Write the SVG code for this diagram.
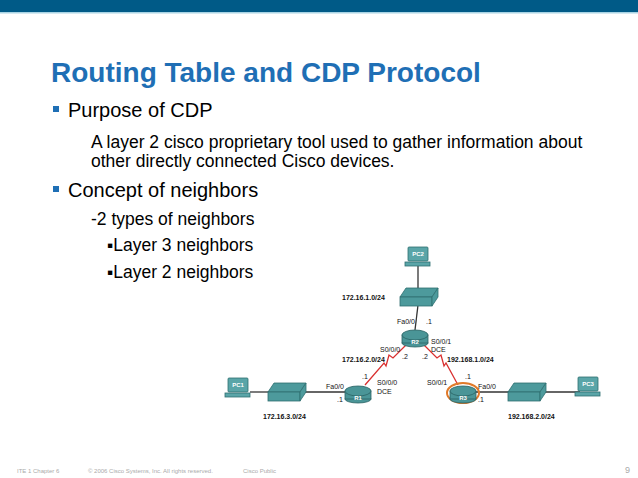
<svg xmlns="http://www.w3.org/2000/svg" width="638" height="478" viewBox="0 0 638 478">
<style>
text{font-family:"Liberation Sans",Arial,sans-serif}
.b{font-size:20px;fill:#000}
.s{font-size:17.5px;fill:#000}
.l{font-size:7px;fill:#111}
.n{font-size:7px;font-weight:bold;fill:#111}
.d{font-size:6px;fill:#fff;font-weight:bold;text-anchor:middle}
.f{font-size:6px;fill:#aaa}
.sw{fill:#4d9a9c;stroke:#2f6e70;stroke-width:0.8}
.rt{fill:#4a9597;stroke:#2b6365;stroke-width:0.8}
.pc{fill:#5aa5a8;stroke:#2f6e70;stroke-width:0.8}
.eth{stroke:#333;stroke-width:1.3;fill:none}
.ser{stroke:#d93030;stroke-width:1.3;fill:none}
</style>
<rect x="0" y="0" width="638" height="12" fill="#005a87"/>
<rect x="0" y="12" width="638" height="1.5" fill="#a9d4e4"/>
<text x="51" y="82" style="font-size:28px;font-weight:bold;fill:#1f6fb5">Routing Table and CDP Protocol</text>
<rect x="53" y="106" width="6" height="6" fill="#1f6fb5"/>
<text x="68" y="117" class="b">Purpose of CDP</text>
<text x="91" y="148" class="s">A layer 2 cisco proprietary tool used to gather information about</text>
<text x="91" y="167" class="s">other directly connected Cisco devices.</text>
<rect x="53" y="186" width="6" height="6" fill="#1f6fb5"/>
<text x="68" y="197" class="b">Concept of neighbors</text>
<text x="91" y="225" class="s">-2 types of neighbors</text>
<text x="107" y="251" class="s">▪Layer 3 neighbors</text>
<text x="107" y="278" class="s">▪Layer 2 neighbors</text>
<g id="connectors">
<line class="eth" x1="418" y1="265" x2="418" y2="290"/>
<line class="eth" x1="418" y1="305" x2="415" y2="330"/>
<line class="eth" x1="250" y1="392" x2="270" y2="392"/>
<line class="eth" x1="303" y1="392" x2="346" y2="392"/>
<line class="eth" x1="475" y1="392" x2="510" y2="392"/>
<line class="eth" x1="543" y1="392" x2="580" y2="392"/>
<polyline class="ser" points="408,343 393,358 389,355 386,366 384,363 365,385"/>
<polyline class="ser" points="422,343 437,358 441,355 444,366 446,363 458,385"/>
</g>
<g id="PC2"><rect class="pc" x="408" y="247" width="20" height="14" rx="1"/><rect class="pc" x="405" y="262" width="25" height="4"/><text class="d" x="418" y="256">PC2</text></g>
<g id="SW2"><polygon class="sw" points="400,297 406,288 438,288 432,297"/><rect class="sw" x="400" y="297" width="32" height="9"/><polygon class="sw" points="432,297 438,288 438,297 432,306"/></g>
<g id="R2"><ellipse class="rt" cx="415" cy="343" rx="13" ry="4"/><rect class="rt" x="402" y="335" width="26" height="8" stroke="none"/><ellipse class="rt" cx="415" cy="335" rx="13" ry="5"/><text class="d" x="415" y="344">R2</text></g>
<g id="R1"><ellipse class="rt" cx="358" cy="399" rx="13" ry="4"/><rect class="rt" x="345" y="391" width="26" height="8" stroke="none"/><ellipse class="rt" cx="358" cy="391" rx="13" ry="5"/><text class="d" x="358" y="400">R1</text></g>
<g id="R3"><ellipse cx="463" cy="393" rx="16" ry="10" fill="none" stroke="#e07a2a" stroke-width="2"/><ellipse class="rt" cx="463" cy="399" rx="13" ry="4"/><rect class="rt" x="450" y="391" width="26" height="8" stroke="none"/><ellipse class="rt" cx="463" cy="391" rx="13" ry="5"/><text class="d" x="463" y="400">R3</text></g>
<g id="SW1"><polygon class="sw" points="268,392 274,383 306,383 300,392"/><rect class="sw" x="268" y="392" width="32" height="9"/><polygon class="sw" points="300,392 306,383 306,392 300,401"/></g>
<g id="SW3"><polygon class="sw" points="508,392 514,383 546,383 540,392"/><rect class="sw" x="508" y="392" width="32" height="9"/><polygon class="sw" points="540,392 546,383 546,392 540,401"/></g>
<g id="PC1"><rect class="pc" x="228" y="378" width="20" height="14" rx="1"/><rect class="pc" x="225" y="393" width="25" height="4"/><text class="d" x="238" y="387">PC1</text></g>
<g id="PC3"><rect class="pc" x="578" y="377" width="20" height="14" rx="1"/><rect class="pc" x="575" y="392" width="25" height="4"/><text class="d" x="588" y="386">PC3</text></g>
<g id="labels">
<text class="n" x="342" y="300">172.16.1.0/24</text>
<text class="l" x="397" y="324">Fa0/0</text><text class="l" x="426" y="324">.1</text>
<text class="l" x="431" y="344">S0/0/1</text><text class="l" x="431" y="352">DCE</text>
<text class="l" x="380" y="352">S0/0/0</text>
<text class="l" x="402" y="359">.2</text><text class="l" x="422" y="359">.2</text>
<text class="n" x="342" y="362">172.16.2.0/24</text>
<text class="n" x="447" y="362">192.168.1.0/24</text>
<text class="l" x="362" y="379">.1</text>
<text class="l" x="326" y="389">Fa0/0</text>
<text class="l" x="377" y="385">S0/0/0</text><text class="l" x="377" y="394">DCE</text>
<text class="l" x="337" y="402">.1</text>
<text class="l" x="427" y="385">S0/0/1</text>
<text class="l" x="465" y="379">.1</text>
<text class="l" x="478" y="389">Fa0/0</text>
<text class="l" x="478" y="402">.1</text>
<text class="n" x="263" y="419">172.16.3.0/24</text>
<text class="n" x="508" y="419">192.168.2.0/24</text>
</g>
<text class="f" x="17" y="473">ITE 1 Chapter 6</text>
<text class="f" x="88" y="473">© 2006 Cisco Systems, Inc. All rights reserved.</text>
<text class="f" x="243" y="473">Cisco Public</text>
<text x="625" y="473" style="font-size:9px;fill:#aaa">9</text>
</svg>
